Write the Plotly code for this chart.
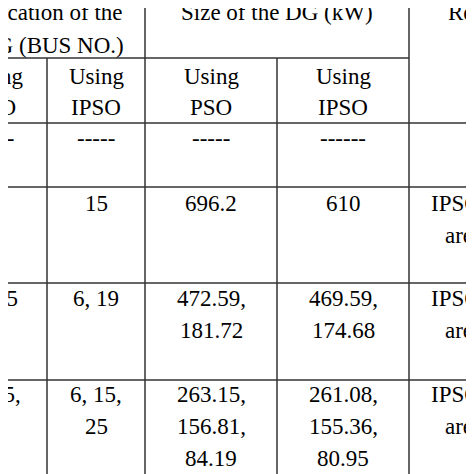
import plotly.graph_objects as go

# table content (cropped view of a results table)
header_loc = ["Location of the", "DG (BUS NO.)"]
header_size = "Size of the DG (kW)"
header_rem = "Remarks"
sub_headers = [["Using", "PSO"], ["Using", "IPSO"], ["Using", "PSO"], ["Using", "IPSO"]]
dash_row = ["-----", "-----", "-----", "------"]
loc_pso = [["15"], ["6, 15"], ["6, 15,", "25"]]
loc_ipso = [["15"], ["6, 19"], ["6, 15,", "25"]]
size_pso = [["696.2"], ["472.59,", "181.72"], ["263.15,", "156.81,", "84.19"]]
size_ipso = [["610"], ["469.59,", "174.68"], ["261.08,", "155.36,", "80.95"]]
remarks = [["IPSO results", "are better"]] * 3

col_x = [-5, 96, 211, 343, 489]
row_top = [203, 298, 394]
line_h = 32
font = dict(family="Liberation Serif, Times New Roman, serif", size=23, color="black")

# the page puts the plot 8px in from the corner; work in screen pixels
off = 8
W = 474

def px(v):
    return (v - off) / W

def py(v):
    return 1 - (v - off) / W

fig = go.Figure()
ann = []
def txt(x, y, s):
    ann.append(dict(x=px(x), y=py(y), xref="paper", yref="paper", text=s,
                    showarrow=False, xanchor="center", yanchor="middle", font=font))

txt(52, 12, header_loc[0]); txt(52, 45, header_loc[1])
txt(277, 12, header_size)
txt(489, 12, header_rem)
for i, (a, b) in enumerate(sub_headers):
    txt(col_x[i], 76, a); txt(col_x[i], 108, b)
for i, d in enumerate(dash_row):
    txt(col_x[i], 138, d)
for r in range(3):
    for c, col in enumerate([loc_pso, loc_ipso, size_pso, size_ipso, remarks]):
        for k, s in enumerate(col[r]):
            txt(col_x[c], row_top[r] + k * line_h, s)

shapes = []
def ln(x0, y0, x1, y1):
    shapes.append(dict(type="line", xref="paper", yref="paper",
                       x0=px(x0), y0=py(y0), x1=px(x1), y1=py(y1),
                       line=dict(color="#333", width=1.5)))
ln(0, 58, 409, 58)
for y in [123, 187, 283, 380]:
    ln(0, y, 482, y)
ln(47, 58, 47, 482); ln(277, 58, 277, 482)
ln(145, 0, 145, 482); ln(409, 0, 409, 482)

fig.update_layout(width=W, height=W, margin=dict(l=0, r=0, t=0, b=0),
                  plot_bgcolor="white", paper_bgcolor="white", showlegend=False,
                  annotations=ann, shapes=shapes,
                  xaxis=dict(range=[0, 1], visible=False),
                  yaxis=dict(range=[0, 1], visible=False))
fig.write_html("out.html")
